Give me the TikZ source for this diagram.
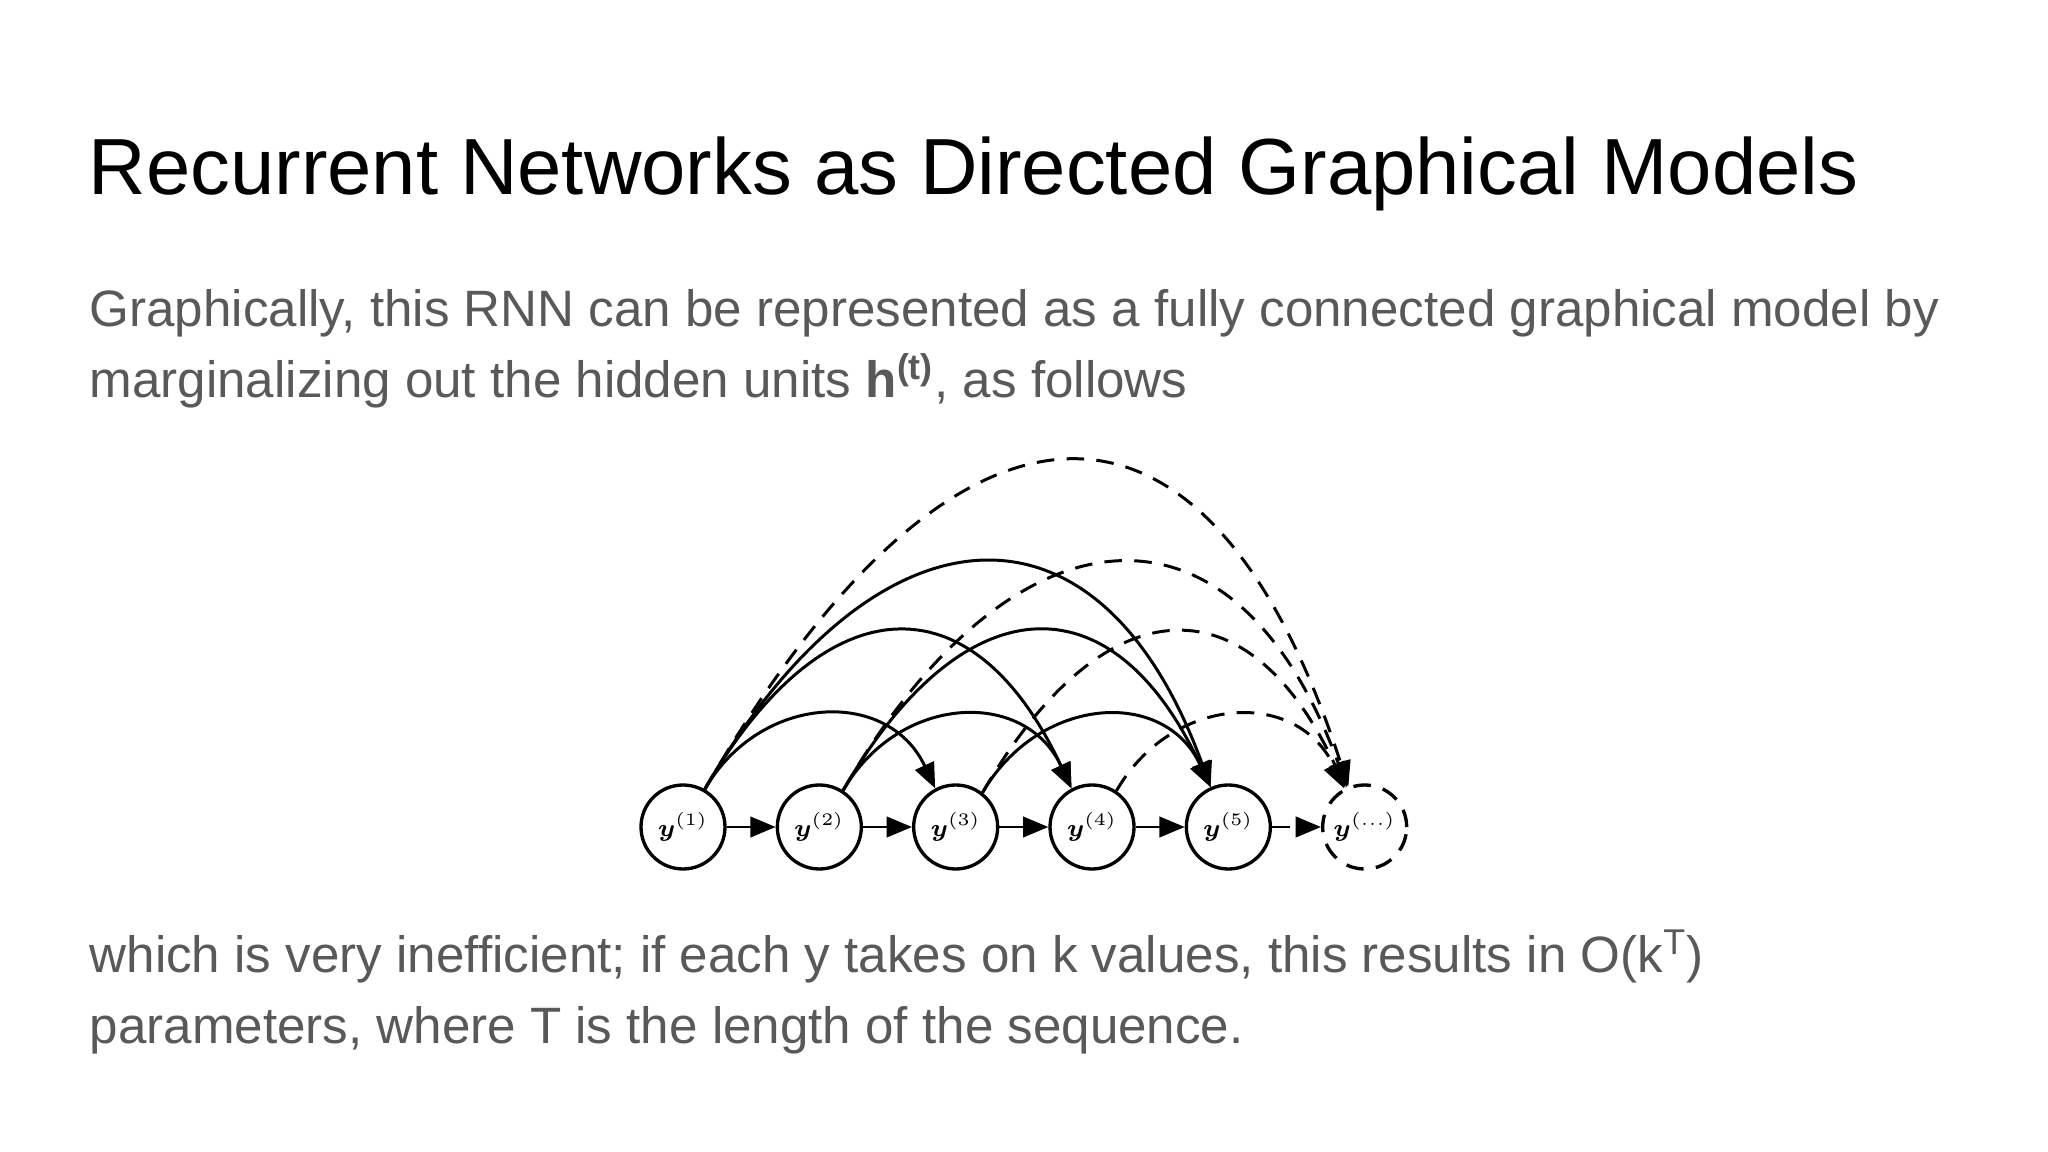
\documentclass[tikz,border=0pt]{standalone}
\usepackage[no-math]{fontspec}
\setmainfont{Liberation Sans}
\usepackage{amsmath}
\usetikzlibrary{arrows.meta, positioning, calc}

\definecolor{texto}{HTML}{595959}

\begin{document}
\begin{tikzpicture}[
        unidad/.style={
            circle,
            draw=black,
            line width=0.95pt,
            minimum size=0.84cm,
            inner sep=0pt,
            font=\scriptsize
        },
        enlace/.style={
            -{Triangle[length=7.2pt,width=5.8pt]},
            line width=0.85pt
        },
        futuro/.style={dash pattern=on 5pt off 3.5pt},
        salto2/.style={out=60, in=115, distance=1.11cm},
        salto3/.style={out=60, in=115, distance=2.36cm},
        salto4/.style={out=60, in=110, distance=3.32cm},
        salto5/.style={out=60, in=108, distance=4.78cm},
        linea/.style={anchor=base west, inner sep=0pt, text=texto,
            font=\fontsize{14.55}{19}\selectfont}
    ]
        \fill[white] (0,0) rectangle (20.48,-11.52);
        \useasboundingbox (0,0) rectangle (20.48,-11.52);

        \node[anchor=base west, inner sep=0pt, font=\fontsize{22.65}{27}\selectfont] (titulo) at (0.88,-1.95)
            {Recurrent Networks as Directed Graphical Models};
        \node[linea] (intro1) at (0.89,-3.27)
            {Graphically, this RNN can be represented as a fully connected graphical model by};
        \node[linea] (intro2) at (0.89,-3.98)
            {marginalizing out the hidden units \textbf{h\textsuperscript{(t)}}, as follows};
        \node[linea] (cierre1) at (0.89,-9.73)
            {which is very inefficient; if each y takes on k values, this results in O(k\textsuperscript{T})};
        \node[linea] (cierre2) at (0.89,-10.43)
            {parameters, where T is the length of the sequence.};

        % cadena de salidas
        \node[unidad] (y1) at (6.83,-8.27) {$\boldsymbol{y}^{(1)}$};
        \node[unidad, right=0.49cm of y1] (y2) {$\boldsymbol{y}^{(2)}$};
        \node[unidad, right=0.49cm of y2] (y3) {$\boldsymbol{y}^{(3)}$};
        \node[unidad, right=0.49cm of y3] (y4) {$\boldsymbol{y}^{(4)}$};
        \node[unidad, right=0.49cm of y4] (y5) {$\boldsymbol{y}^{(5)}$};
        \node[unidad, futuro, right=0.49cm of y5] (yn) {$\boldsymbol{y}^{(\ldots)}$};

        \draw[enlace] (y1) -- (y2);
        \draw[enlace] (y2) -- (y3);
        \draw[enlace] (y3) -- (y4);
        \draw[enlace] (y4) -- (y5);
        \draw[enlace, futuro] (y5) -- (yn);

        % dependencias largas
        \draw[enlace] (y1.60) to[salto2] (y3.118);
        \draw[enlace] (y1.60) to[salto3] (y4.118);
        \draw[enlace] (y1.60) to[salto4] (y5.114);
        \draw[enlace, futuro] (y1.60) to[salto5] (yn.112);
        \draw[enlace] (y2.57) to[salto2] (y4.118);
        \draw[enlace] (y2.57) to[salto3] (y5.114);
        \draw[enlace, futuro] (y2.57) to[salto4] (yn.114);
        \draw[enlace] (y3.52) to[salto2] (y5.114);
        \draw[enlace, futuro] (y3.52) to[salto3] (yn.116);
        \draw[enlace, futuro] (y4.56) to[salto2] (yn.118);
    \end{tikzpicture}
\end{document}
